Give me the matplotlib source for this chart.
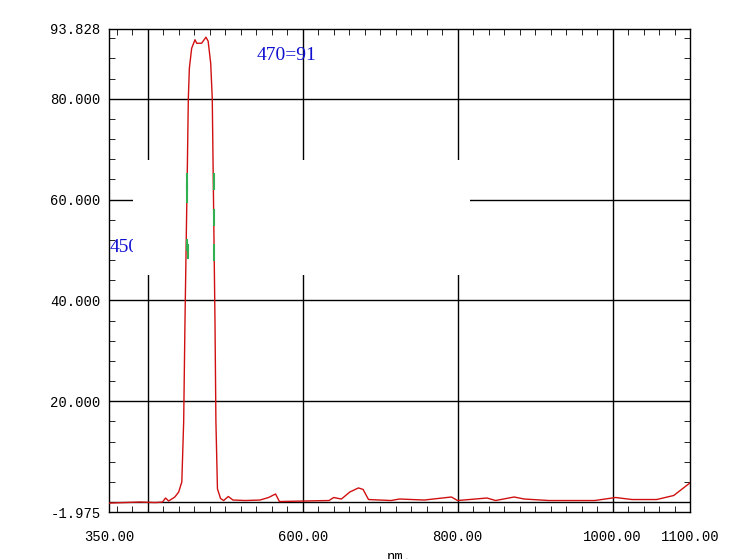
import matplotlib
matplotlib.use("Agg")
import matplotlib.pyplot as plt
from matplotlib.patches import Rectangle
from matplotlib.ticker import MultipleLocator

# spectrum (nm, T%)
wl = [350, 370, 390, 410, 419, 423, 427, 435, 440, 444, 446.4, 448.1, 451, 452.4, 453.7,
      456.7, 461, 463.2, 469.5, 475.2, 478, 481.3, 483.3, 484.5, 486.8, 488, 490, 494,
      498, 504, 510, 526, 545, 556, 565, 570, 600, 634, 640, 650, 661, 672, 678, 685,
      714, 725, 757, 792, 800, 838, 849, 873, 886, 918, 977, 1004, 1025, 1057, 1079, 1100]
tr = [-0.2, -0.1, 0.0, -0.1, 0.0, 0.8, 0.2, 1.0, 2.0, 4.0, 16, 36, 65, 80, 86,
      90, 91.7, 91, 91, 92.2, 91.4, 87, 80, 65, 36, 16, 2.6, 0.7,
      0.3, 1.1, 0.4, 0.3, 0.4, 0.9, 1.6, 0.1, 0.2, 0.3, 0.9, 0.6, 2.0, 2.8, 2.5, 0.5,
      0.3, 0.6, 0.4, 1.0, 0.3, 0.8, 0.3, 1.0, 0.6, 0.3, 0.3, 0.9, 0.5, 0.5, 1.3, 3.8]

xticks = [350, 600, 800, 1000, 1100]
xtick_labels = ["350.00", "600.00", "800.00", "1000.00", "1100.00"]
yticks = [-1.975, 20, 40, 60, 80, 93.828]
ytick_labels = ["-1.975", "20.000", "40.000", "60.000", "80.000", "93.828"]
xgrid = [400, 600, 800, 1000]
ygrid = [0, 20, 40, 60, 80]

# green marker segments (x, y0, y1)
marks = [(450.5, 62, 65), (450.8, 59.5, 63), (451.2, 50, 52), (451.6, 48.5, 51),
         (485, 62, 65), (485.2, 55, 58), (485.5, 48, 51)]

font = "Liberation Mono"
fig = plt.figure(figsize=(7.53, 5.59), dpi=100)
ax = fig.add_axes([109/753, 47/559, 581/753, 483/559])
ax.set_xlim(350, 1100)
ax.set_ylim(-1.975, 93.828)

for g in xgrid:
    ax.axvline(g, color="black", lw=1, zorder=1)
for g in ygrid:
    ax.axhline(g, color="black", lw=1, zorder=1)

ax.text(351, 50.4, "450", color="#1010d0", fontsize=14, family="Liberation Serif",
        va="center", zorder=2)
ax.add_patch(Rectangle((381, 45), 435, 22.9, facecolor="white", edgecolor="none", zorder=3))

ax.plot(wl, tr, color="#d01010", lw=1, zorder=4)
for x, y0, y1 in marks:
    ax.plot([x, x], [y0, y1], color="#30b050", lw=1.5, zorder=5)

ax.text(540, 88.5, "470=91", color="#1010d0", fontsize=14, family="Liberation Serif",
        va="center", zorder=6)

ax.set_xticks(xticks)
ax.set_xticklabels(xtick_labels, family=font, fontsize=10)
ax.set_yticks(yticks)
ax.set_yticklabels(ytick_labels, family=font, fontsize=10)
ax.xaxis.set_minor_locator(MultipleLocator(20))
ax.yaxis.set_minor_locator(MultipleLocator(4))
ax.tick_params(which="both", direction="in", top=True, right=True, length=4)
ax.tick_params(which="major", length=0)
ax.tick_params(axis="x", which="major", pad=13)
ax.tick_params(axis="y", which="major", pad=6)
ax.set_xlabel("nm.", family=font, fontsize=10, labelpad=4)
ax.set_ylabel("T%", family=font, fontsize=10, labelpad=44)
for s in ax.spines.values():
    s.set_linewidth(1)

fig.savefig("out.png", dpi=100)
